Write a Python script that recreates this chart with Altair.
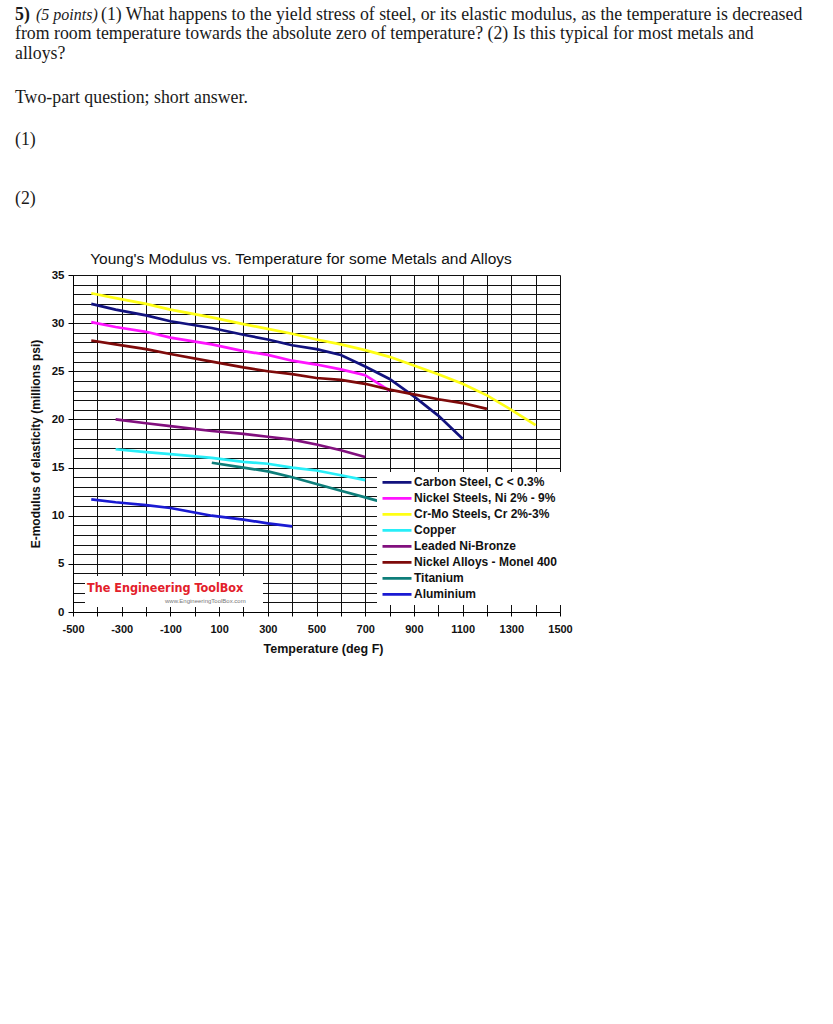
import altair as alt
import pandas as pd

# ---------------- data ----------------
series_names = [
    "Carbon Steel, C < 0.3%",
    "Nickel Steels, Ni 2% - 9%",
    "Cr-Mo Steels, Cr 2%-3%",
    "Copper",
    "Leaded Ni-Bronze",
    "Nickel Alloys - Monel 400",
    "Titanium",
    "Aluminium",
]
series_colors = ["#12127e", "#ff14ff", "#ffff14", "#28eef8", "#82107e", "#7e0a0a", "#0e7e7a", "#1a1ad2"]

carbon_T = [-425, -325, -200, -100, 70, 200, 300, 400, 500, 600, 700, 800, 900, 1000, 1100]
carbon_E = [32.0, 31.4, 30.8, 30.2, 29.5, 28.8, 28.3, 27.7, 27.3, 26.7, 25.5, 24.2, 22.4, 20.4, 18.0]

nickel_T = [-425, -325, -200, -100, 70, 200, 300, 400, 500, 600, 700, 800]
nickel_E = [30.1, 29.6, 29.1, 28.5, 27.8, 27.1, 26.7, 26.1, 25.7, 25.2, 24.6, 23.0]

crmo_T = [-425, -325, -200, -100, 70, 200, 300, 400, 500, 600, 700, 800, 900, 1000, 1100, 1200, 1300, 1400]
crmo_E = [33.1, 32.6, 32.0, 31.4, 30.6, 29.9, 29.4, 28.9, 28.3, 27.8, 27.2, 26.5, 25.6, 24.7, 23.7, 22.5, 21.0, 19.4]

copper_T = [-325, -200, -100, 70, 200, 300, 400, 500, 600, 700]
copper_E = [16.9, 16.6, 16.4, 16.0, 15.6, 15.4, 15.0, 14.7, 14.2, 13.7]

bronze_T = [-325, -200, -100, 70, 200, 300, 400, 500, 600, 700]
bronze_E = [20.0, 19.6, 19.3, 18.8, 18.5, 18.2, 17.9, 17.4, 16.8, 16.1]

monel_T = [-425, -325, -200, -100, 70, 200, 300, 400, 500, 600, 700, 800, 900, 1000, 1100, 1200]
monel_E = [28.2, 27.8, 27.3, 26.8, 26.0, 25.4, 25.0, 24.7, 24.3, 24.1, 23.7, 23.1, 22.6, 22.1, 21.7, 21.1]

titanium_T = [70, 200, 300, 400, 500, 600, 700, 800]
titanium_E = [15.5, 15.0, 14.6, 14.0, 13.3, 12.6, 11.9, 11.2]

alu_T = [-425, -325, -200, -100, 70, 200, 300, 400]
alu_E = [11.7, 11.4, 11.1, 10.8, 10.0, 9.6, 9.2, 8.9]

x_ticks = list(range(-500, 1501, 100))
y_ticks = list(range(0, 36, 1))

chart_title = "Young's Modulus vs. Temperature for some Metals and Alloys"
x_title = "Temperature (deg F)"
y_title = "E-modulus of elasticity (millions psi)"
watermark = "The Engineering ToolBox"
watermark_url = "www.EngineeringToolBox.com"

q_num = "5)"
q_pts = "(5 points)"
q_line1 = "(1) What happens to the yield stress of steel, or its elastic modulus, as the temperature is decreased"
q_line2 = "from room temperature towards the absolute zero of temperature? (2) Is this typical for most metals and"
q_line3 = "alloys?"
q_line4 = "Two-part question; short answer."
q_a1 = "(1)"
q_a2 = "(2)"

# ---------------- table ----------------
rows = []
for name, T, E in zip(series_names,
                      [carbon_T, nickel_T, crmo_T, copper_T, bronze_T, monel_T, titanium_T, alu_T],
                      [carbon_E, nickel_E, crmo_E, copper_E, bronze_E, monel_E, titanium_E, alu_E]):
    for t, e in zip(T, E):
        rows.append({"series": name, "T": t, "E": e})
df = pd.DataFrame(rows)

W, H = 487, 337
LEFT, TOP = 73, 275

SANS = "Liberation Sans, Arial, sans-serif"
SERIF = "Liberation Serif, Times New Roman, serif"

lines = alt.Chart(df).mark_line(strokeWidth=2.7).encode(
    x=alt.X("T:Q",
            scale=alt.Scale(domain=[-500, 1500], nice=False, zero=False),
            axis=alt.Axis(values=x_ticks,
                          labelExpr="abs(datum.value % 200) == 100 ? '' + datum.value : ''",
                          labelOverlap=False, labelFlush=False,
                          grid=True, gridColor="#111111", gridWidth=1, gridOpacity=1,
                          domainColor="#000000", tickColor="#000000", tickSize=4,
                          labelFont=SANS, labelFontSize=11, labelFontWeight="bold",
                          labelColor="#111111", labelPadding=7,
                          title=x_title, titleFont=SANS, titleFontSize=12.5,
                          titleFontWeight="bold", titleColor="#111111", titlePadding=8,
                          titleX=250)),
    y=alt.Y("E:Q",
            scale=alt.Scale(domain=[0, 35], nice=False, zero=True),
            axis=alt.Axis(values=y_ticks,
                          labelExpr="datum.value % 5 == 0 ? '' + datum.value : ''",
                          labelOverlap=False, labelFlush=False,
                          tickOpacity={"condition": {"test": "datum.value % 5 != 0", "value": 0}, "value": 1},
                          grid=True, gridColor="#111111", gridWidth=1, gridOpacity=1,
                          domainColor="#000000", tickColor="#000000", tickSize=5,
                          labelFont=SANS, labelFontSize=11.5, labelFontWeight="bold",
                          labelColor="#111111", labelPadding=4,
                          title=y_title, titleFont=SANS, titleFontSize=12,
                          titleFontWeight="bold", titleColor="#111111", titlePadding=9)),
    color=alt.Color("series:N",
                    scale=alt.Scale(domain=series_names, range=series_colors),
                    sort=series_names, title=None,
                    legend=alt.Legend(orient="none", legendX=304, legendY=197,
                                      direction="vertical", symbolType="stroke",
                                      symbolSize=841, symbolStrokeWidth=2.7,
                                      clipHeight=12.8,
                                      labelFont=SANS, labelFontSize=12, labelFontWeight="bold",
                                      labelColor="#111111", labelLimit=400, labelOffset=1,
                                      fillColor="white", padding=4, rowPadding=3)),
)

wm_df = pd.DataFrame({"t": [watermark]})
wm_box = alt.Chart(wm_df).mark_rect(color="white").encode(
    x=alt.value(12), x2=alt.value(190), y=alt.value(301), y2=alt.value(332))
wm_text = alt.Chart(wm_df).mark_text(
    font="Liberation Sans Narrow, DejaVu Sans Condensed, Roboto Condensed, Liberation Sans, sans-serif",
    fontSize=12.5, fontWeight="bold", color="#e3202a", align="left", baseline="middle"
).encode(text="t:N", x=alt.value(14), y=alt.value(313))
wm_url = alt.Chart(pd.DataFrame({"t": [watermark_url]})).mark_text(
    font=SANS, fontSize=6, color="#777777", align="left", baseline="middle"
).encode(text="t:N", x=alt.value(92), y=alt.value(326))

title_mark = alt.Chart(pd.DataFrame({"t": [chart_title]})).mark_text(
    font=SANS, fontSize=15.5, color="#111111", align="center", baseline="middle"
).encode(text="t:N", x=alt.value(228), y=alt.value(-16))


def page_text(txt, x, y, weight="normal", style="normal", size=17.8):
    return alt.Chart(pd.DataFrame({"t": [txt]})).mark_text(
        font=SERIF, fontSize=size, color="#1a1a1a", align="left", baseline="alphabetic",
        fontWeight=weight, fontStyle=style
    ).encode(text="t:N", x=alt.value(x - LEFT), y=alt.value(y - TOP))


texts = [
    page_text(q_num, 15, 20, weight="bold"),
    page_text(q_pts, 36, 20, style="italic", size=16),
    page_text(q_line1, 101, 20),
    page_text(q_line2, 15, 39),
    page_text(q_line3, 15, 59),
    page_text(q_line4, 15, 103),
    page_text(q_a1, 15, 145),
    page_text(q_a2, 15, 204),
]

chart = alt.layer(lines, wm_box, wm_text, wm_url, title_mark, *texts).properties(
    width=W, height=H,
    autosize=alt.AutoSizeParams(type="none"),
    padding={"left": LEFT, "top": TOP, "right": 833 - LEFT - W, "bottom": 1024 - TOP - H},
    background="white",
).configure_view(stroke=None)

chart.save("out.html", embed_options={"renderer": "svg", "actions": False})
